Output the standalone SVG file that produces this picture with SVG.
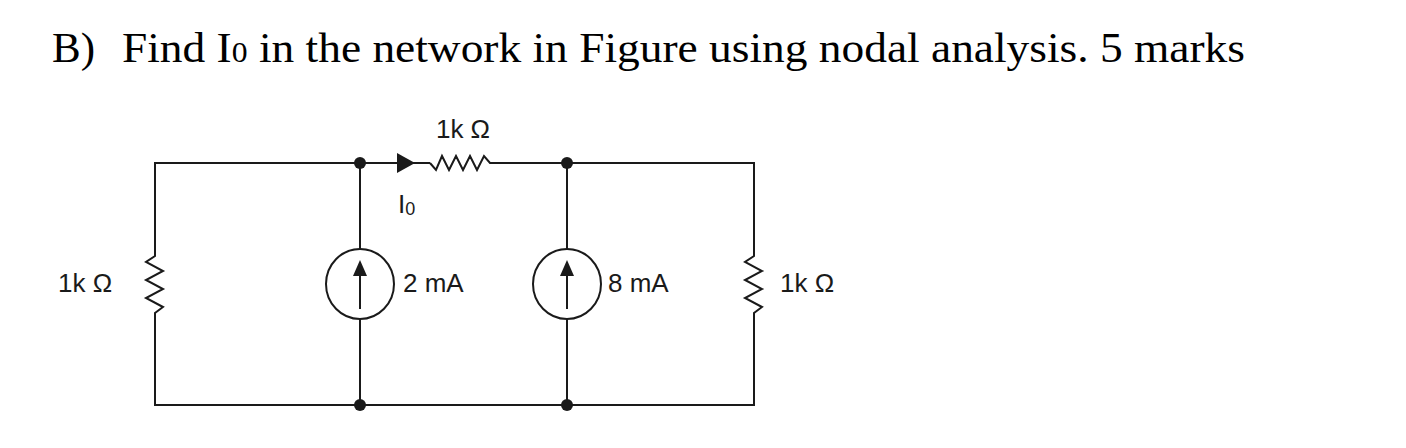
<svg xmlns="http://www.w3.org/2000/svg" width="1406" height="448" viewBox="0 0 1406 448">
<style>
.w{fill:none;stroke:#1a1a1a;stroke-width:2}
.t{font-family:"Liberation Sans",Arial,sans-serif;font-size:26px;fill:#1a1a1a}
.title{font-family:"Liberation Serif","Times New Roman",serif;font-size:43px;fill:#000}
.d{fill:#1a1a1a}
</style>
<rect width="1406" height="448" fill="#fff"/>
<text class="title" x="52" y="62">B)</text>
<text class="title" x="122" y="62" textLength="1123" lengthAdjust="spacingAndGlyphs">Find I<tspan font-size="30">0</tspan> in the network in Figure using nodal analysis. 5 marks</text>
<g id="connectors">
<path class="w" d="M155,250 V163 H430 M496,163 H754 V250 M754,320 V405 H155 V320"/>
<path class="w" d="M360,163 V249 M360,319 V405 M567,163 V249 M567,319 V405"/>
</g>
<g id="R_top">
<path class="w" d="M430,163 L436,170 L442,156 L449,170 L456,156 L463,170 L470,156 L477,170 L484,156 L490,163 H496"/>
<text class="t" x="463" y="138" text-anchor="middle">1k Ω</text>
</g>
<g id="Io">
<path class="d" d="M397,153 L415,163 L397,173 Z"/>
<text class="t" x="398" y="213">I<tspan font-size="18" dy="2">0</tspan></text>
</g>
<g id="R_left">
<path class="w" d="M155,250 L155,256 L146,262 L163,271 L146,280 L163,289 L146,298 L163,307 L155,313 L155,320"/>
<text class="t" x="58" y="292">1k Ω</text>
</g>
<g id="R_right">
<path class="w" d="M754,250 L754,256 L745,262 L762,271 L745,280 L762,289 L745,298 L762,307 L754,313 L754,320"/>
<text class="t" x="780" y="292">1k Ω</text>
</g>
<g id="I_2mA">
<ellipse class="w" cx="360" cy="284" rx="34" ry="35"/>
<path class="w" d="M360,309 V272"/>
<path class="d" d="M353,276 L360,260 L367,276 Z"/>
<text class="t" x="403" y="292">2 mA</text>
</g>
<g id="I_8mA">
<ellipse class="w" cx="567" cy="284" rx="34" ry="35"/>
<path class="w" d="M567,309 V272"/>
<path class="d" d="M560,276 L567,260 L574,276 Z"/>
<text class="t" x="608" y="292">8 mA</text>
</g>
<g id="nodes">
<circle class="d" cx="360" cy="163" r="6"/>
<circle class="d" cx="567" cy="163" r="6"/>
<circle class="d" cx="360" cy="405" r="6"/>
<circle class="d" cx="567" cy="405" r="6"/>
</g>
</svg>
